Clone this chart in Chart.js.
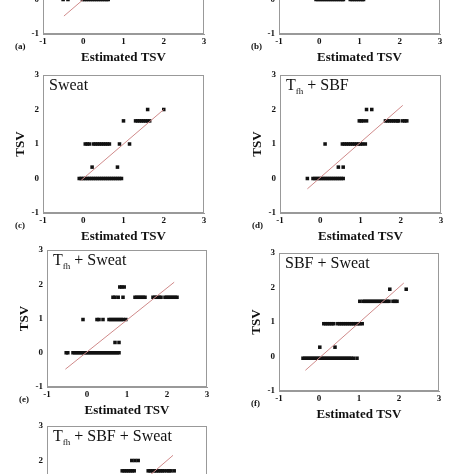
<!DOCTYPE html>
<html><head><meta charset="utf-8">
<script src="https://cdn.jsdelivr.net/npm/chart.js@4"></script>
<style>html,body{margin:0;padding:0;background:#fff;width:474px;height:474px;overflow:hidden;position:relative}canvas{position:absolute}</style>
</head><body>
<script>
const xTicks = [-1,0,1,2,3];
const yTicks = [-1,0,1,2,3];
// panel (a)
const a_y0 = [-0.5,-0.38,-0.02,0.03,0.08,0.13,0.18,0.23,0.28,0.33,0.38,0.43,0.48,0.53,0.58,0.62];
const a_line = [[-0.48,-0.48],[2,2]];
// panel (b)
const b_y0 = [-0.08,-0.03,0.02,0.07,0.12,0.17,0.22,0.27,0.32,0.37,0.42,0.47,0.52,0.57,0.6,0.77,0.82,0.87,0.92,0.97,1.02,1.07,1.1];
const b_line = [[0.1,0.1],[2.1,2.1]];
// panel (c) Sweat
const c_y0 = [-0.1,-0.05,0,0.05,0.1,0.15,0.2,0.25,0.3,0.35,0.4,0.45,0.5,0.55,0.6,0.65,0.7,0.75,0.8,0.85,0.9,0.95];
const c_y033 = [0.22,0.85];
const c_y1 = [0.05,0.1,0.15,0.25,0.3,0.35,0.4,0.45,0.5,0.55,0.6,0.65,0.9,1.15];
const c_y167 = [1.0,1.3,1.35,1.4,1.45,1.5,1.55,1.6,1.65];
const c_y2 = [1.6,2.0];
const c_line = [[-0.05,-0.05],[2,2]];
// panel (d) Tfh + SBF
const d_y0 = [-0.32,-0.18,-0.13,-0.08,-0.03,0.02,0.07,0.12,0.17,0.22,0.27,0.32,0.37,0.42,0.47,0.52,0.57];
const d_y033 = [0.45,0.57];
const d_y1 = [0.12,0.55,0.6,0.65,0.7,0.75,0.8,0.85,0.9,0.95,1.0,1.05,1.12];
const d_y167 = [0.97,1.02,1.07,1.15,1.62,1.67,1.72,1.77,1.82,1.87,1.92,1.95,2.05,2.1,2.15];
const d_y2 = [1.15,1.28];
const d_line = [[-0.32,-0.3],[2.05,2.12]];
// panel (e) Tfh + Sweat
const e_y0 = [-0.52,-0.48,-0.35,-0.3,-0.25,-0.2,-0.15,-0.1,-0.05,0,0.05,0.1,0.15,0.2,0.25,0.3,0.35,0.4,0.45,0.5,0.55,0.6,0.65,0.7,0.75,0.8];
const e_y03 = [0.7,0.8];
const e_y097 = [-0.1,0.25,0.3,0.4,0.55,0.6,0.65,0.7,0.75,0.8,0.85,0.9,0.97];
const e_y162 = [0.65,0.7,0.78,0.9,1.2,1.25,1.3,1.35,1.4,1.45,1.65,1.7,1.75,1.8,1.85,1.95,2.0,2.05,2.1,2.15,2.2,2.25];
const e_y192 = [0.82,0.87,0.93];
const e_line = [[-0.54,-0.48],[2.18,2.06]];
// panel (f) SBF + Sweat
const f_yn005 = [-0.4,-0.35,-0.3,-0.25,-0.2,-0.15,-0.1,-0.05,0,0.05,0.1,0.15,0.2,0.25,0.3,0.35,0.4,0.45,0.5,0.55,0.6,0.65,0.7,0.75,0.8,0.86,0.95];
const f_y027 = [0.02,0.4];
const f_y095 = [0.12,0.17,0.22,0.27,0.32,0.37,0.47,0.52,0.57,0.62,0.67,0.72,0.77,0.82,0.87,0.92,0.97,1.02,1.08];
const f_y16 = [1.02,1.1,1.15,1.2,1.25,1.3,1.35,1.4,1.45,1.5,1.55,1.6,1.65,1.7,1.75,1.85,1.9,1.95];
const f_y195 = [1.77,2.18];
const f_line = [[-0.34,-0.4],[2.12,2.13]];
// panel (g) Tfh + SBF + Sweat
const g_y2 = [1.12,1.2,1.28];
const g_y17 = [0.88,0.93,0.98,1.03,1.08,1.13,1.18,1.53,1.58,1.63,1.68,1.73,1.78,1.83,1.88,1.93,2.0,2.05,2.1,2.18];
const g_line = [[-0.4,-0.4],[2.15,2.15]];

const panels = [
  {rect:[43,-104,204,34], letter:'(a)', label:null, rows:[[a_y0,0]], line:a_line},
  {rect:[279,-104,440,34], letter:'(b)', label:null, rows:[[b_y0,0]], line:b_line},
  {rect:[43,75,204,213], letter:'(c)', label:[['Sweat',0]], rows:[[c_y0,0],[c_y033,0.33],[c_y1,1],[c_y167,1.67],[c_y2,2]], line:c_line},
  {rect:[280,75,441,213], letter:'(d)', label:[['T',0],['fh',1],[' + SBF',0]], rows:[[d_y0,0],[d_y033,0.33],[d_y1,1],[d_y167,1.67],[d_y2,2]], line:d_line},
  {rect:[47,250,207,387], letter:'(e)', label:[['T',0],['fh',1],[' + Sweat',0]], rows:[[e_y0,0],[e_y03,0.3],[e_y097,0.97],[e_y162,1.62],[e_y192,1.92]], line:e_line},
  {rect:[279,253,439,391], letter:'(f)', label:[['SBF + Sweat',0]], rows:[[f_yn005,-0.05],[f_y027,0.27],[f_y095,0.95],[f_y16,1.6],[f_y195,1.95]], line:f_line},
  {rect:[47,426,207,564], letter:'(g)', label:[['T',0],['fh',1],[' + SBF + Sweat',0]], rows:[[g_y2,2],[g_y17,1.7]], line:g_line}
];

const SERIF = '"Liberation Serif", "DejaVu Serif", serif';
const PL=40, PT=10, PR=10, PB=32;

panels.forEach(p => {
  const [x0,y0,x1,y1] = p.rect;
  const W = (x1-x0)+PL+PR, H = (y1-y0)+PT+PB;
  const cv = document.createElement('canvas');
  cv.width=W; cv.height=H;
  cv.style.left=(x0-PL)+'px'; cv.style.top=(y0-PT)+'px';
  cv.style.width=W+'px'; cv.style.height=H+'px';
  document.body.appendChild(cv);
  const pts = [];
  p.rows.forEach(([xs,y]) => xs.forEach(x => pts.push({x:x,y:y})));
  const deco = {
    id:'deco',
    afterDraw(chart){
      const c=chart.ctx, a=chart.chartArea;
      c.save();
      c.strokeStyle='#999'; c.lineWidth=1;
      c.strokeRect(a.left+0.5,a.top+0.5,a.right-a.left-1,a.bottom-a.top-1);
      c.fillStyle='#111';
      c.font='bold 13px '+SERIF; c.textAlign='center'; c.textBaseline='alphabetic';
      c.fillText('Estimated TSV',(a.left+a.right)/2,a.bottom+27);
      c.save(); c.translate(a.left-19,(a.top+a.bottom)/2); c.rotate(-Math.PI/2);
      c.fillText('TSV',0,0); c.restore();
      c.font='bold 9px '+SERIF; c.textAlign='left';
      c.fillText(p.letter,a.left-28,a.bottom+15);
      if(p.label){
        let x=a.left+6; const y=a.top+15;
        p.label.forEach(([t,sub])=>{
          c.font=(sub?'9px ':'16px ')+SERIF;
          c.fillText(t,x,sub?y+4:y);
          x+=c.measureText(t).width;
        });
      }
      c.restore();
    }
  };
  new Chart(cv,{
    type:'scatter',
    data:{datasets:[
      {data:p.line.map(q=>({x:q[0],y:q[1]})),showLine:true,borderColor:'#d08a8a',borderWidth:1,pointRadius:0},
      {data:pts,pointStyle:'rect',pointRadius:2.5,backgroundColor:'#111',borderColor:'#111',borderWidth:0}
    ]},
    options:{
      responsive:false,animation:false,devicePixelRatio:1,
      layout:{padding:{left:0,top:PT,right:PR,bottom:0}},
      plugins:{legend:{display:false},tooltip:{enabled:false}},
      scales:{
        x:{type:'linear',min:-1,max:3,afterBuildTicks:s=>{s.ticks=xTicks.map(v=>({value:v}));},
           afterFit:s=>{s.height=PB;},
           grid:{display:false,drawTicks:false,tickLength:0},border:{color:'#999'},
           ticks:{font:{family:SERIF,size:9,weight:'bold'},color:'#111',padding:2,maxRotation:0}},
        y:{type:'linear',min:-1,max:3,afterBuildTicks:s=>{s.ticks=yTicks.map(v=>({value:v}));},
           afterFit:s=>{s.width=PL;},
           grid:{display:false,drawTicks:false,tickLength:0},border:{color:'#999'},
           ticks:{font:{family:SERIF,size:9,weight:'bold'},color:'#111',padding:4}}
      }
    },
    plugins:[deco]
  });
});
</script>
</body></html>
